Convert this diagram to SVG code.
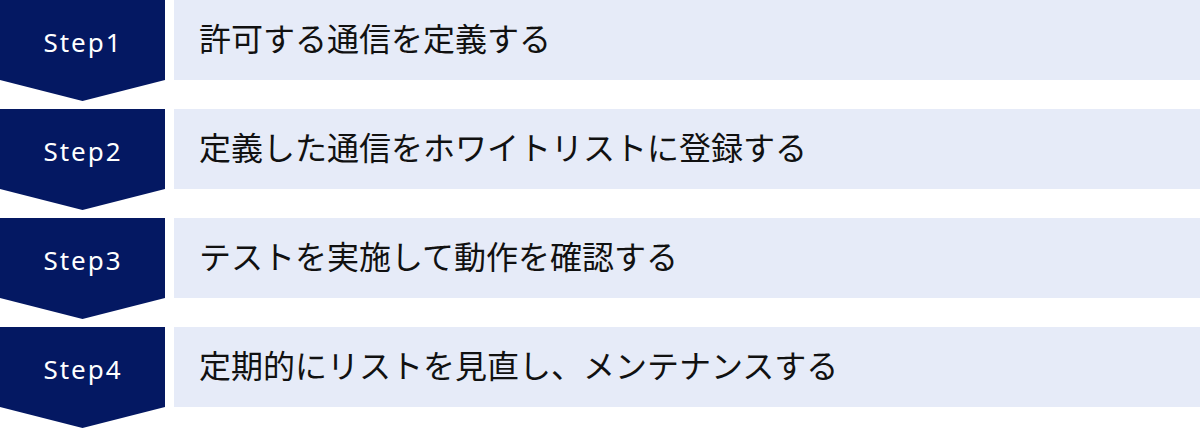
<svg xmlns="http://www.w3.org/2000/svg" width="1200" height="429" viewBox="0 0 1200 429">
<style>
.chev{fill:#041862}
.box{fill:#e6ebf8}
.step{font-family:"Noto Sans","DejaVu Sans",sans-serif;font-size:26px;fill:#ffffff;text-anchor:middle;letter-spacing:2px}
.lbl{font-family:"Noto Sans CJK JP","Noto Sans",sans-serif;font-size:32px;fill:#111111}
</style>
<rect width="1200" height="429" fill="#ffffff"/>
<g id="connectors"></g>
<g id="step1">
<polygon class="chev" points="0,0 165,0 165,80 82.5,101 0,80"/>
<text class="step" x="83" y="52">Step1</text>
<rect class="box" x="174" y="0" width="1026" height="80"/>
<text class="lbl" x="199" y="51">許可する通信を定義する</text>
</g>
<g id="step2">
<polygon class="chev" points="0,109 165,109 165,189 82.5,210 0,189"/>
<text class="step" x="83" y="161">Step2</text>
<rect class="box" x="174" y="109" width="1026" height="80"/>
<text class="lbl" x="199" y="160">定義した通信をホワイトリストに登録する</text>
</g>
<g id="step3">
<polygon class="chev" points="0,218 165,218 165,298 82.5,319 0,298"/>
<text class="step" x="83" y="270">Step3</text>
<rect class="box" x="174" y="218" width="1026" height="80"/>
<text class="lbl" x="199" y="269">テストを実施して動作を確認する</text>
</g>
<g id="step4">
<polygon class="chev" points="0,327 165,327 165,407 82.5,428 0,407"/>
<text class="step" x="83" y="379">Step4</text>
<rect class="box" x="174" y="327" width="1026" height="80"/>
<text class="lbl" x="199" y="378">定期的にリストを見直し、メンテナンスする</text>
</g>
</svg>
